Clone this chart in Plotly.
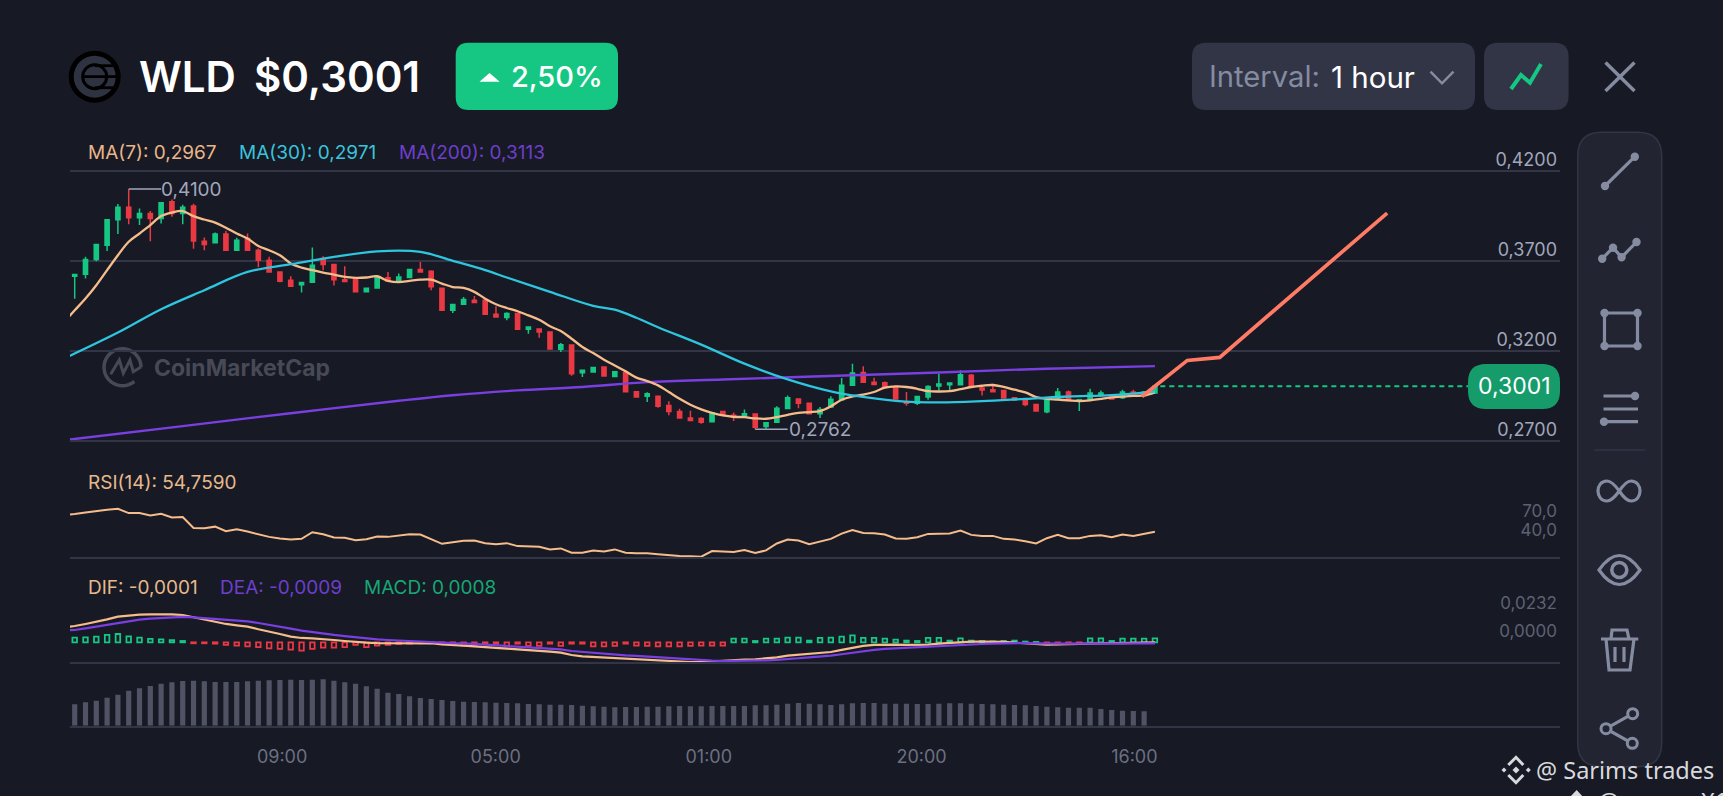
import math

import plotly.graph_objects as go

W, H = 1723, 796
BG = "#171924"
GRID = "#323546"
GREEN = "#16c784"
RED = "#ea3943"
PEACH = "#f6bd8c"
CYAN = "#2ec5de"
PURPLE = "#7a3fe0"
SALMON = "#ff7b66"
GREY = "#858ca2"
MARK = "#474a56"

# candles, one per hour
opens = [.3614,.3625,.3707,.3787,.3929,.3998,.3940,.3964,.3936,.4029,
         .3964,.4005,.3809,.3800,.3849,.3759,.3824,.3759,.3703,.3638,
         .3592,.3567,.3581,.3713,.3679,.3595,.3597,.3527,.3549,.3605,
         .3588,.3607,.3651,.3642,.3547,.3424,.3458,.3480,.3480,.3402,
         .3384,.3406,.3318,.3320,.3303,.3207,.3231,.3077,.3080,.3108,
         .3056,.3077,.2971,.2946,.2946,.2894,.2861,.2824,.2822,.2803,
         .2861,.2839,.2835,.2846,.2777,.2801,.2877,.2930,.2907,.2848,
         .2885,.2926,.3006,.3078,.3024,.3021,.2993,.2915,.2907,.2941,
         .3002,.3009,.3009,.3063,.2991,.2982,.2978,.2937,.2922,.2900,
         .2859,.2931,.2969,.2917,.2926,.2954,.2944,.2937,.2969,.2950,.2963]
closes = [.3623,.3707,.3791,.3929,.3998,.3940,.3964,.3936,.4023,.3964,
          .3998,.3811,.3791,.3849,.3759,.3815,.3759,.3703,.3638,.3586,
          .3558,.3579,.3675,.3679,.3595,.3584,.3527,.3547,.3605,.3588,
          .3610,.3651,.3638,.3555,.3424,.3456,.3484,.3467,.3402,.3387,
          .3406,.3318,.3331,.3303,.3209,.3233,.3071,.3090,.3106,.3058,
          .3082,.2971,.2941,.2959,.2889,.2861,.2824,.2811,.2801,.2851,
          .2839,.2829,.2848,.2773,.2798,.2879,.2937,.2907,.2848,.2872,
          .2928,.3006,.3075,.3023,.3011,.2997,.2930,.2907,.2944,.3000,
          .3013,.3019,.3065,.3000,.2980,.2970,.2935,.2926,.2900,.2863,
          .2931,.2969,.2922,.2926,.2963,.2963,.2930,.2969,.2959,.2969,.3001]
highs = [.3623,.3722,.3795,.3932,.4016,.4100,.3992,.3977,.4023,.4042,
         .4012,.4018,.3830,.3858,.3867,.3828,.3852,.3768,.3722,.3640,
         .3614,.3580,.3774,.3726,.3679,.3670,.3601,.3547,.3605,.3638,
         .3629,.3651,.3694,.3648,.3547,.3456,.3499,.3504,.3484,.3447,
         .3413,.3406,.3335,.3320,.3303,.3242,.3231,.3093,.3108,.3112,
         .3082,.3090,.2971,.2967,.2946,.2918,.2876,.2865,.2829,.2851,
         .2865,.2855,.2872,.2846,.2798,.2889,.2950,.2933,.2907,.2885,
         .2945,.3047,.3127,.3112,.3049,.3027,.2993,.2969,.2944,.3006,
         .3071,.3021,.3090,.3070,.2997,.3015,.2982,.2941,.2922,.2900,
         .2937,.2991,.2978,.2930,.2987,.2978,.2954,.2981,.2981,.2974,.3001]
lows = [.3489,.3601,.3698,.3755,.3849,.3904,.3900,.3809,.3908,.3945,
        .3904,.3767,.3759,.3796,.3759,.3759,.3759,.3664,.3638,.3581,
        .3558,.3523,.3581,.3648,.3562,.3584,.3527,.3527,.3549,.3588,
        .3588,.3607,.3634,.3536,.3424,.3409,.3458,.3463,.3398,.3387,
        .3369,.3318,.3294,.3272,.3205,.3192,.3060,.3052,.3080,.3058,
        .3054,.2971,.2941,.2913,.2881,.2840,.2824,.2811,.2792,.2803,
        .2839,.2807,.2829,.2762,.2764,.2801,.2877,.2879,.2848,.2824,
        .2885,.2926,.3006,.3023,.3011,.2995,.2930,.2892,.2896,.2926,
        .2978,.2978,.3009,.3000,.2950,.2968,.2935,.2922,.2890,.2859,
        .2851,.2931,.2920,.2863,.2926,.2944,.2928,.2930,.2951,.2946,.2960]

# lines start one candle before the visible window
ma7 = [.3358,.3424,.3490,.3564,.3648,.3731,.3806,.3852,.3899,.3949,.3969,
       .3977,.3949,.3930,.3913,.3884,.3852,.3824,.3783,.3759,.3731,
       .3685,.3662,.3648,.3634,.3623,.3610,.3605,.3607,.3614,.3588,
       .3581,.3588,.3595,.3595,.3573,.3554,.3549,.3527,.3489,.3458,
       .3437,.3419,.3396,.3372,.3335,.3309,.3266,.3220,.3186,.3149,
       .3117,.3084,.3049,.3030,.3006,.2969,.2931,.2898,.2872,.2853,
       .2839,.2831,.2829,.2822,.2820,.2829,.2842,.2853,.2857,.2863,
       .2889,.2926,.2944,.2954,.2969,.2993,.3000,.2997,.2987,.2974,
       .2972,.2974,.2985,.2997,.3004,.3008,.2997,.2982,.2967,.2941,
       .2931,.2927,.2922,.2918,.2922,.2931,.2939,.2944,.2948,.2950,.2967]
ma30_at = [-1,4,8,12,16,20,24,28,32,35,38,40,44,48,50,52,54,58,62,66,70,72,76,80,84,88,92,96,100]
ma30 = [.3155,.3300,.3430,.3536,.3638,.3681,.3722,.3753,.3750,.3700,.3648,.3607,.3527,.3449,
        .3428,.3383,.3330,.3233,.3127,.3039,.2972,.2950,.2920,.2911,.2918,.2931,.2944,.2952,.2971]
ma200_at = [-1,10,20,30,35,41,47,53,60,72,80,90,100]
ma200 = [.2700,.2779,.2851,.2920,.2951,.2978,.2997,.3024,.3039,.3062,.3078,.3099,.3113]
drawn_at = [98.8,103,106,121.5]
drawn = [.2944,.3145,.3162,.3966]
last_price = .3001
price_ticks = [.27,.32,.37,.42]
price_labels = ["0,2700","0,3200","0,3700","0,4200"]

rsi = [80.5,81.5,84,86.5,88,89.5,83,83,79.5,82,76.5,77,60.5,60,62.5,55.5,58.5,55,51,47,44.5,
       43,44,54,51,46,45.5,42,43.5,47.5,47,48.5,51,50.5,44,36.5,39,41,41.5,37.5,36,
       37.5,33,32.5,32,28,29.5,23,23,26.5,25,28,23,22,22,20.5,19,18,17.5,17,25.5,
       24.5,24,27,22.5,26.5,37,43,41.5,36,39.5,44,52,57.5,53,52.5,50.5,44.5,44,46.5,51.5,
       52,52,56.5,50,48.5,48.5,44,43,40.5,37,45,50,45,45,48.5,49.5,46.5,50.5,48.5,51.5,54.76]

dif = [.0125,.0135,.0152,.0168,.0190,.0213,.0224,.0229,.0232,.0235,.0232,
       .0226,.0207,.0185,.0168,.0152,.0141,.0130,.0108,.0091,.0069,
       .0047,.0036,.0033,.0028,.0019,.0011,.0003,-.0003,-.0006,-.0006,
       -.0006,-.0006,-.0008,-.0008,-.0017,-.0025,-.0028,-.0033,-.0041,-.0047,
       -.0052,-.0058,-.0063,-.0072,-.0077,-.0086,-.0105,-.0116,-.0121,-.0127,
       -.0130,-.0135,-.0141,-.0146,-.0152,-.0155,-.0157,-.0163,-.0163,-.0157,
       -.0152,-.0146,-.0144,-.0141,-.0135,-.0124,-.0110,-.0102,-.0097,-.0091,
       -.0080,-.0063,-.0044,-.0030,-.0022,-.0019,-.0019,-.0022,-.0022,-.0019,
       -.0011,-.0006,.0003,.0006,.0006,.0006,.0003,-.0003,-.0008,-.0014,
       -.0019,-.0017,-.0014,-.0011,-.0006,-.0006,-.0006,-.0006,-.0003,-.0003,-.0001]
dea = [.0098,.0102,.0116,.0130,.0146,.0163,.0177,.0188,.0196,.0201,.0207,
       .0210,.0207,.0201,.0196,.0190,.0182,.0174,.0160,.0146,.0130,
       .0113,.0097,.0083,.0072,.0061,.0052,.0041,.0033,.0025,.0019,
       .0014,.0011,.0006,.0003,0,-.0006,-.0008,-.0014,-.0019,-.0025,
       -.0030,-.0036,-.0041,-.0047,-.0052,-.0058,-.0072,-.0080,-.0088,-.0097,
       -.0102,-.0108,-.0113,-.0119,-.0124,-.0132,-.0138,-.0144,-.0149,-.0152,
       -.0155,-.0155,-.0155,-.0152,-.0149,-.0146,-.0141,-.0132,-.0124,-.0119,
       -.0110,-.0099,-.0086,-.0072,-.0063,-.0055,-.0050,-.0047,-.0041,-.0036,
       -.0030,-.0025,-.0022,-.0017,-.0014,-.0011,-.0008,-.0006,-.0006,-.0008,
       -.0011,-.0011,-.0011,-.0011,-.0011,-.0008,-.0008,-.0008,-.0006,-.0006,-.0009]
hist = [.0039,.0041,.0047,.0061,.0069,.0050,.0039,.0028,.0025,.0017,.0011,
        -.0008,-.0008,-.0011,-.0022,-.0028,-.0033,-.0039,-.0050,-.0055,-.0061,-.0069,
        -.0055,-.0044,-.0044,-.0039,-.0022,-.0039,-.0028,-.0022,-.0014,-.0011,-.0008,
        -.0008,-.0008,-.0008,-.0028,-.0028,-.0011,-.0011,-.0033,-.0011,-.0030,-.0030,
        -.0011,-.0030,-.0011,-.0011,-.0033,-.0033,-.0030,-.0011,-.0028,-.0030,-.0033,
        -.0033,-.0033,-.0030,-.0028,-.0028,-.0028,
        .0030,.0030,.0011,.0030,.0030,.0039,.0039,.0014,.0036,.0039,.0047,.0058,.0036,
        .0036,.0030,.0022,.0014,.0011,.0036,.0036,.0014,.0033,.0014,.0011,.0008,.0011,
        .0014,.0006,.0003,-.0017,-.0017,-.0006,-.0014,
        .0033,.0033,.0011,.0030,.0030,.0030,.0033]
volume = [640,700,750,840,930,1050,1120,1190,1260,1300,1340,1350,1330,1310,1310,1310,1330,1350,1360,1370,
          1380,1370,1380,1390,1350,1300,1260,1180,1110,990,950,880,830,800,770,740,720,710,700,690,
          680,670,650,640,630,630,620,600,580,570,550,560,560,570,570,580,590,580,580,590,
          590,590,590,610,610,630,660,680,660,640,620,640,670,680,680,660,660,660,650,650,
          660,670,670,660,650,640,630,620,610,590,570,550,540,540,540,500,470,450,440,430]
time_at = [19.2,38.97,58.7,78.4,98.1]
time_labels = ["09:00","05:00","01:00","20:00","16:00"]

idx = list(range(101))
idx_prev = list(range(-1, 101))


# page pixels to paper fractions
def px(x):
    return x / W


def py(y):
    return 1 - y / H


def dom(top, bottom):
    return [py(bottom), py(top)]


def c(x, y):
    return f"{px(x)},{py(y)}"


def path(*pts, close=False):
    s = "M " + " L ".join(c(x, y) for x, y in pts)
    return s + (" Z" if close else "")


def rrect(x0, y0, x1, y1, r):
    return (f"M {c(x0 + r, y0)} L {c(x1 - r, y0)} Q {c(x1, y0)} {c(x1, y0 + r)} "
            f"L {c(x1, y1 - r)} Q {c(x1, y1)} {c(x1 - r, y1)} L {c(x0 + r, y1)} "
            f"Q {c(x0, y1)} {c(x0, y1 - r)} L {c(x0, y0 + r)} Q {c(x0, y0)} {c(x0 + r, y0)} Z")


shapes = []
annotations = []


def add_path(d, color=None, fill=None, width=3.2, layer="above"):
    shapes.append(dict(type="path", xref="paper", yref="paper", path=d, layer=layer,
                       fillcolor=fill or "rgba(0,0,0,0)",
                       line=dict(color=color or "rgba(0,0,0,0)", width=width if color else 0)))


def add_circle(cx, cy, r, color=None, fill=None, width=3, layer="above"):
    shapes.append(dict(type="circle", xref="paper", yref="paper", layer=layer,
                       x0=px(cx - r), x1=px(cx + r), y0=py(cy + r), y1=py(cy - r),
                       fillcolor=fill or "rgba(0,0,0,0)",
                       line=dict(color=color or "rgba(0,0,0,0)", width=width if color else 0)))


def add_text(x, y, text, color, size, anchor="left", weight=400, family="Inter"):
    annotations.append(dict(xref="paper", yref="paper", x=px(x), y=py(y), text=text, showarrow=False,
                            xanchor=anchor, yanchor="middle", borderpad=0,
                            font=dict(family=family, size=size, color=color, weight=weight)))


fig = go.Figure()
fig.add_trace(go.Candlestick(x=idx, open=opens, high=highs, low=lows, close=closes, whiskerwidth=0,
                             increasing=dict(line=dict(color=GREEN, width=1.5), fillcolor=GREEN),
                             decreasing=dict(line=dict(color=RED, width=1.5), fillcolor=RED),
                             xaxis="x", yaxis="y"))
fig.add_trace(go.Scatter(x=ma200_at, y=ma200, mode="lines", line=dict(color=PURPLE, width=2.4, shape="spline")))
fig.add_trace(go.Scatter(x=idx_prev, y=ma7, mode="lines", line=dict(color=PEACH, width=2.3, shape="spline")))
fig.add_trace(go.Scatter(x=ma30_at, y=ma30, mode="lines", line=dict(color=CYAN, width=2.3, shape="spline")))
# max / min leader lines
fig.add_trace(go.Scatter(x=[5, 8], y=[max(highs)] * 2, mode="lines", line=dict(color="#a1a7bb", width=1.5)))
fig.add_trace(go.Scatter(x=[63, 66], y=[min(lows)] * 2, mode="lines", line=dict(color="#a1a7bb", width=1.5)))
fig.add_trace(go.Scatter(x=[100.5, 129], y=[last_price] * 2, mode="lines",
                         line=dict(color=GREEN, width=1.8, dash="5px 4px")))
fig.add_trace(go.Scatter(x=drawn_at, y=drawn, mode="lines", line=dict(color=SALMON, width=3.7)))

fig.add_trace(go.Scatter(x=idx_prev, y=rsi, mode="lines", line=dict(color=PEACH, width=2),
                         xaxis="x2", yaxis="y2"))

hist_colors = [GREEN if v >= 0 else RED for v in hist]
fig.add_trace(go.Bar(x=idx, y=hist, width=0.42, marker=dict(color=BG, line=dict(color=hist_colors, width=1.8)),
                     xaxis="x3", yaxis="y3"))
fig.add_trace(go.Scatter(x=idx_prev, y=dif, mode="lines", line=dict(color=PEACH, width=2.2), xaxis="x3", yaxis="y3"))
fig.add_trace(go.Scatter(x=idx_prev, y=dea, mode="lines", line=dict(color=PURPLE, width=2.2), xaxis="x3", yaxis="y3"))

fig.add_trace(go.Bar(x=idx[:-1], y=volume, width=0.48, marker=dict(color="#4f5364", line=dict(width=0)),
                     xaxis="x4", yaxis="y4"))

# logo
add_circle(94.7, 76.7, 26, fill="#000000")
add_circle(94.7, 76.7, 21, fill="#2f3240")
add_circle(94.7, 76.7, 12, color="#000000", width=3)
for dy in [-11, 0, 11]:
    add_path(path((94.7 if dy else 82.7, 76.7 + dy), (115 if dy else 117, 76.7 + dy)), color="#000000", width=2.8)

# top bar
add_text(137.5, 76.7, "WLD", "#ffffff", 42, weight=600)
add_text(253, 76.7, "$0,3001", "#ffffff", 42, weight=600)
add_path(rrect(455.7, 42.7, 618, 110, 13), fill=GREEN)
add_path(path((479.5, 81.7), (489.5, 73), (499.7, 81.7), close=True), fill="#ffffff")
add_text(510, 76.7, "2,50%", "#ffffff", 29, weight=500)

add_path(rrect(1192, 42.7, 1475, 110, 14), fill=GRID)
add_text(1208, 76.7, "Interval:", GREY, 29.2)
add_text(1330, 76.7, "1 hour", "#ffffff", 29.5)
add_path(path((1430.5, 71.7), (1442, 83.3), (1453.5, 71.7)), color=GREY, width=2.5)
add_path(rrect(1484, 42.7, 1568.6, 110, 14), fill=GRID)
add_path(path((1511, 89), (1521, 75), (1530, 82.7), (1541, 64)), color=GREEN, width=4)
add_path(path((1605.5, 62.5), (1634.5, 91)), color=GREY, width=3.4)
add_path(path((1634.5, 62.5), (1605.5, 91)), color=GREY, width=3.4)

# indicator captions
add_text(86.5, 152.7, "MA(7): 0,2967", "#e9b68b", 19)
add_text(237.7, 152.7, "MA(30): 0,2971", "#39c4dc", 19)
add_text(398, 152.7, "MA(200): 0,3113", "#6d3fcb", 19)
add_text(86.5, 482, "RSI(14): 54,7590", "#e6b98c", 19)
add_text(86.5, 587.3, "DIF: -0,0001", "#e6b98c", 19)
add_text(218.6, 587.3, "DEA: -0,0009", "#6d3fcb", 19)
add_text(363, 587.3, "MACD: 0,0008", "#16a874", 19)
add_text(160, 189.5, "0,4100", "#a1a7bb", 19)
add_text(788, 429.5, "0,2762", "#a1a7bb", 19)

# last price pill
add_path(rrect(1468, 364, 1560, 409, 18), fill="#169c6b")
add_text(1514, 386, "0,3001", "#ffffff", 23, anchor="center")

# watermark
arc = [(122.5 + 18.5 * math.cos(math.radians(a)), 367.3 - 18.5 * math.sin(math.radians(a)))
       for a in range(0, 320, 10)]
add_path(path(*arc), color=MARK, width=3.5, layer="below")
add_path(path((110.7, 374.3), (119.3, 360), (123.3, 373.3), (130, 360), (133.3, 371.7), (141, 367)),
         color=MARK, width=3, layer="below")
add_text(153, 368, "CoinMarketCap", MARK, 23, weight=700)

# tool panel
add_path(rrect(1577.7, 132.3, 1661.7, 766.7, 24), color=GRID, fill="#222531", width=1.5)
add_path(path((1605, 186), (1634.8, 156.7)), color=GREY)
add_circle(1605, 186, 4.2, fill=GREY)
add_circle(1634.8, 156.7, 4.2, fill=GREY)
poly = [(1602.2, 258.7), (1613, 247.7), (1621.6, 257.3), (1636.5, 242)]
add_path(path(*poly), color=GREY)
for x, y in poly:
    add_circle(x, y, 4.2, fill=GREY)
rect = [(1604.5, 313), (1637.5, 313), (1637.5, 346), (1604.5, 346)]
add_path(path(*rect, close=True), color=GREY)
for x, y in rect:
    add_circle(x, y, 4.2, fill=GREY)
for y in [396, 409, 421.7]:
    add_path(path((1603.5, y), (1638, y)), color=GREY)
add_circle(1635, 396, 4.2, fill=GREY)
add_circle(1604, 421.7, 4.2, fill=GREY)
add_path(path((1594.3, 450), (1645, 450)), color=GRID, width=1.5)
add_path(f"M {c(1619.3, 491)} C {c(1612, 481)} {c(1608, 481)} {c(1607, 481)} "
         f"C {c(1595, 481)} {c(1595, 501)} {c(1607, 501)} C {c(1608, 501)} {c(1612, 501)} {c(1619.3, 491)} "
         f"C {c(1626, 481)} {c(1630, 481)} {c(1631, 481)} C {c(1643, 481)} {c(1643, 501)} {c(1631, 501)} "
         f"C {c(1630, 501)} {c(1626, 501)} {c(1619.3, 491)} Z", color=GREY)
add_path(f"M {c(1599, 570)} Q {c(1619.3, 541)} {c(1640, 570)} Q {c(1619.3, 599)} {c(1599, 570)} Z", color=GREY)
add_circle(1619.3, 570, 7.5, color=GREY, width=3.5)
add_path(path((1601, 639), (1638.3, 639)), color=GREY)
add_path(path((1611, 639), (1612, 630), (1627, 630), (1629, 639)), color=GREY)
add_path(path((1606, 639), (1609, 670), (1630, 670), (1634, 639)), color=GREY)
add_path(path((1615, 647), (1615, 662)), color=GREY)
add_path(path((1624, 647), (1624, 662)), color=GREY)
add_path(path((1632.7, 713.7), (1606, 728.7), (1632.3, 743.3)), color=GREY)
for x, y in [(1632.7, 713.7), (1606, 728.7), (1632.3, 743.3)]:
    add_circle(x, y, 5, color=GREY, fill="#222531")

# user stamp, the next line of it is cut by the screenshot edge
STAMP = "#d8d9dd"
add_path(path((1508.3, 765), (1516, 757.3), (1523.3, 765)), color=STAMP, width=3)
add_path(path((1508.3, 775), (1516, 782.7), (1523.3, 775)), color=STAMP, width=3)
for x, r in [(1504, 2.5), (1516, 3.5), (1528.3, 2.5)]:
    add_path(path((x - r, 770), (x, 770 - r), (x + r, 770), (x, 770 + r), close=True), fill=STAMP)
add_text(1535, 770, "@ Sarims trades", STAMP, 23.5, family="Noto Sans")
add_path(path((1569, 798), (1576.7, 790), (1584, 798), close=True), fill=STAMP)
add_text(1597, 801, "@", STAMP, 23.5, family="Noto Sans")
add_text(1700, 801, "X1", STAMP, 23.5, family="Noto Sans")

x_domain = [px(70), px(1560)]
x_range = [-0.435, 137.5]
common_x = dict(domain=x_domain, range=x_range, showgrid=False, zeroline=False, showticklabels=False,
                showline=True, linecolor=GRID, linewidth=1.5, ticks="", fixedrange=True,
                rangeslider=dict(visible=False))
common_y = dict(side="right", ticks="", showline=False, zeroline=False, ticklabelposition="inside",
                ticklabelshift=-11, automargin=False, fixedrange=True)

fig.update_layout(
    width=W,
    height=H,
    autosize=False,
    margin=dict(l=0, r=0, t=0, b=0),
    paper_bgcolor=BG,
    plot_bgcolor="rgba(0,0,0,0)",
    showlegend=False,
    barmode="overlay",
    boxgap=0.45,
    font=dict(family="Inter", color=GREY),
    shapes=shapes,
    annotations=annotations,
    xaxis=dict(common_x, anchor="y"),
    xaxis2=dict(common_x, anchor="y2", matches="x"),
    xaxis3=dict(common_x, anchor="y3", matches="x"),
    xaxis4=dict(common_x, anchor="y4", matches="x", showticklabels=True, tickvals=time_at, ticktext=time_labels,
                tickfont=dict(size=18, color="#6b7082"), ticklabelstandoff=14),
    yaxis=dict(common_y, anchor="x", domain=dom(140, 440.3), range=[.27, .42 + 31 / 1792], tickvals=price_ticks,
               ticktext=price_labels, showgrid=True, gridcolor=GRID, gridwidth=1.5,
               tickfont=dict(size=18, color="#a1a7bb")),
    yaxis2=dict(common_y, anchor="x2", domain=dom(490, 557), range=[16.5, 118], tickvals=[40, 70],
                ticktext=["40,0", "70,0"], showgrid=False, tickfont=dict(size=17, color="#5d6173")),
    yaxis3=dict(common_y, anchor="x3", domain=dom(580, 662), range=[-.0163, .0516], tickvals=[0, .0232],
                ticktext=["0,0000", "0,0232"], showgrid=False, tickfont=dict(size=17, color="#5d6173")),
    yaxis4=dict(common_y, anchor="x4", domain=dom(670, 725.7), range=[0, 1670], showticklabels=False, showgrid=False),
)

fig.write_html("out.html", config={"displayModeBar": False},
               post_script=f"document.body.style.margin='0';document.body.style.background='{BG}';")
